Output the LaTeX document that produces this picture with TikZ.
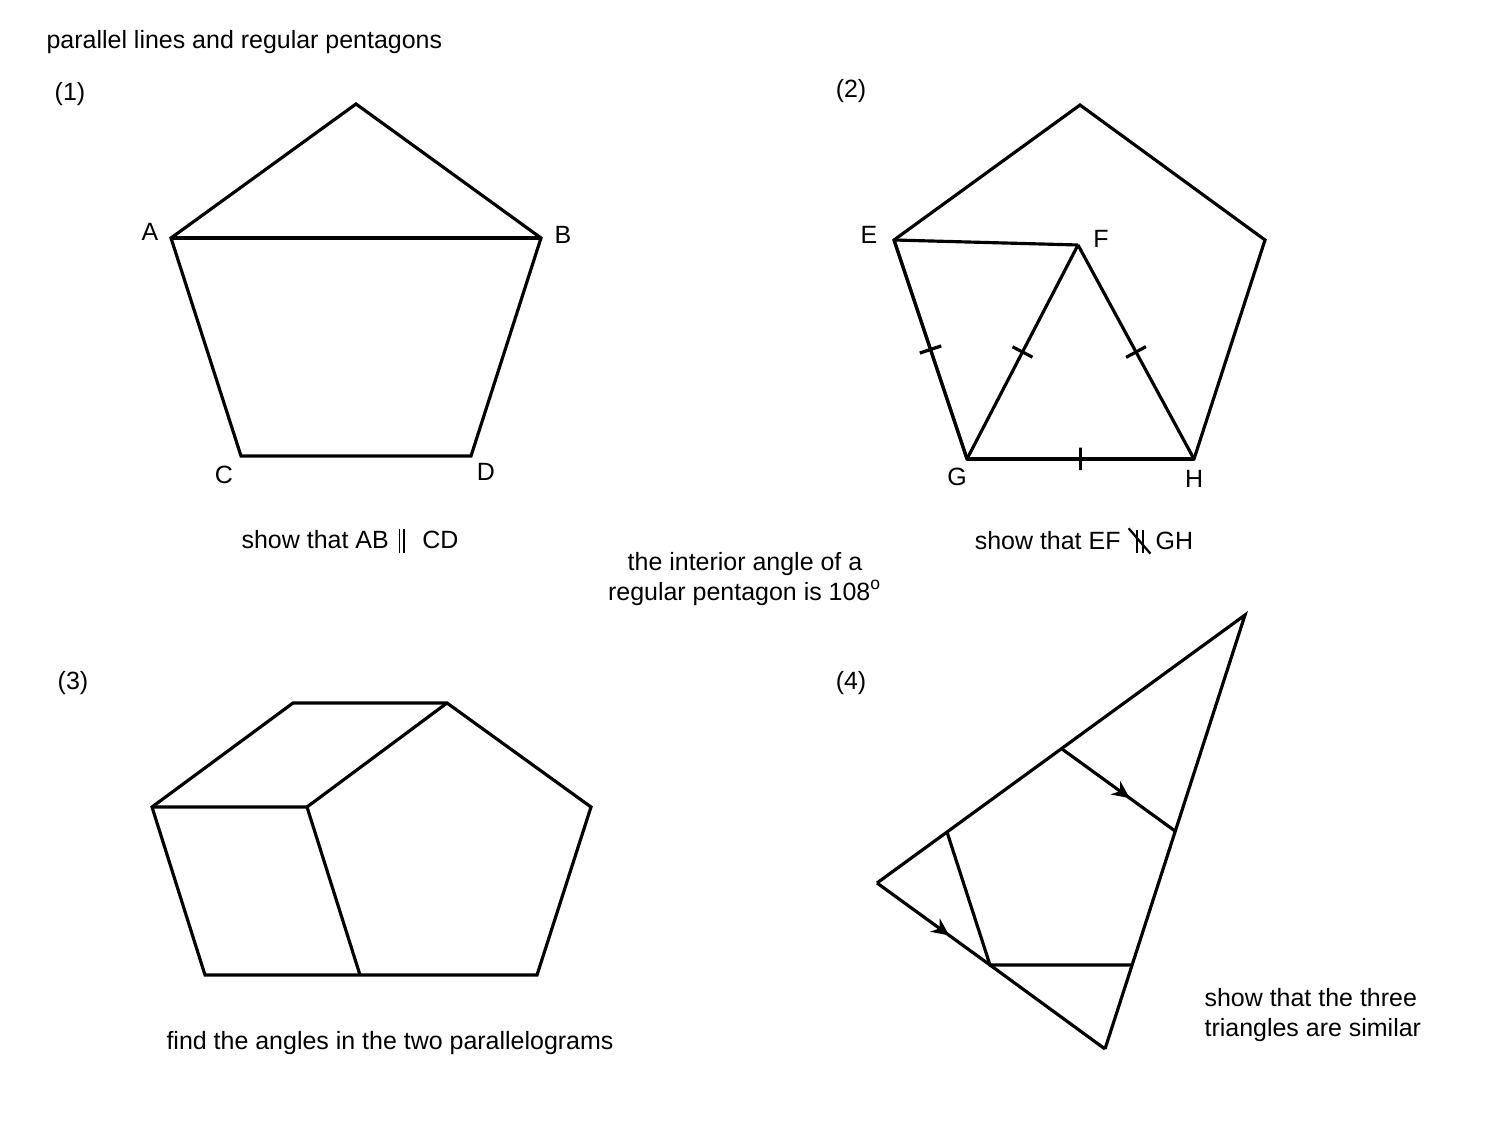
\documentclass[tikz,border=0pt]{standalone}
\usepackage{fontspec}
\setmainfont{Liberation Sans}
\usetikzlibrary{arrows.meta, decorations.markings}

\newcommand{\parbars}{\tikz[x=1pt, y=1pt, baseline=0pt, line width=0.45pt]{\draw (0,-1.3) -- (0,5.3); \draw (1.3,-1.3) -- (1.3,5.3);}}
\newcommand{\nparbars}{\tikz[x=1pt, y=1pt, baseline=0pt, line width=0.5pt]{\draw (0,-1) -- (0,5.5); \draw (1.6,-1) -- (1.6,5.5); \draw[line width=0.65pt] (-2.4,6) -- (3.8,-1.2);}}

\begin{document}
\begin{tikzpicture}[x=0.01cm, y=-0.01cm, line width=0.9pt, line join=miter]

\tikzset{lbl/.style = {font=\fontsize{7.1}{8.3}\selectfont, inner sep=0pt}}
\tikzset{tick/.style = {midway, sloped, draw, shape=rectangle, inner sep=0pt, minimum width=0pt, minimum height=6.4pt, line width=0.9pt}}
\tikzset{arrowmid/.style = {postaction={decorate}, decoration={markings, mark=at position #1 with {\arrow{Stealth[length=5pt, width=4.6pt, inset=1.6pt]}}}}}
\useasboundingbox (0,0) rectangle (1500,1125);

%texts
\node[lbl, anchor=west] (title) at (45,42) {parallel lines and regular pentagons};
\node[lbl] (n1) at (70,94) {(1)};
\node[lbl] (n2) at (851,91) {(2)};
\node[lbl] (n3) at (73,683) {(3)};
\node[lbl] (n4) at (851,683) {(4)};
\node[lbl] (q1) at (350,541) {show that AB\hspace{2.8pt}\parbars\hspace{5pt}CD};
\node[lbl, align=center] (fact) at (745,579) {the interior angle of a\\regular pentagon is 108\textsuperscript{o}};
\node[lbl] (q2) at (1084,541) {show that EF \nparbars\,GH};
\node[lbl] (q3) at (390,1043) {find the angles in the two parallelograms};
\node[lbl, anchor=west, align=left] (q4) at (1203,1015) {show that the three\\triangles are similar};

%pentagon (1)
\coordinate (P1) at (356,104);
\coordinate (A) at (171,238);
\coordinate (B) at (541,238);
\coordinate (C) at (241,456);
\coordinate (D) at (471,456);
\draw (P1) -- (B) -- (D) -- (C) -- (A) -- cycle;
\draw (A) -- (B);
\node[lbl] (la) at (150,232) {A};
\node[lbl] (lb) at (563,235) {B};
\node[lbl] (lc) at (224,475) {C};
\node[lbl] (ld) at (486,472) {D};

%pentagon (2)
\coordinate (P2) at (1080,105);
\coordinate (E) at (894,240);
\coordinate (R2) at (1265,240);
\coordinate (H) at (1194,459);
\coordinate (G) at (967,459);
\coordinate (F) at (1078,245);
\draw (P2) -- (R2) -- (H) -- (G) -- (E) -- cycle;
\draw (E) -- (F);
\draw (G) -- (F) node[tick] {};
\draw (F) -- (H) node[tick] {};
\draw (E) -- (G) node[tick] {};
\draw (G) -- (H) node[tick] {};
\node[lbl] (le) at (869,235) {E};
\node[lbl] (lf) at (1101,239) {F};
\node[lbl] (lg) at (957,477) {G};
\node[lbl] (lh) at (1194,479) {H};

%pentagon (3) with parallelograms
\coordinate (K1) at (447,703);
\coordinate (K2) at (591,807);
\coordinate (K3) at (537,975);
\coordinate (K4) at (360,975);
\coordinate (K5) at (307,807);
\coordinate (M1) at (293,703);
\coordinate (M2) at (152,807);
\coordinate (M3) at (205,975);
\draw (K1) -- (K2) -- (K3) -- (M3) -- (M2) -- (M1) -- cycle;
\draw (M2) -- (K5) -- (K4);
\draw (K5) -- (K1);

%triangle (4)
\coordinate (T1) at (1245,615);
\coordinate (T2) at (877,883);
\coordinate (T3) at (1105,1049);
\coordinate (S1) at (1062,749);
\coordinate (S2) at (947,832);
\coordinate (S3) at (990,965);
\coordinate (S4) at (1131,965);
\coordinate (S5) at (1175,831);
\draw (T3) -- (T1) -- (T2);
\draw[arrowmid=0.64] (T2) -- (S3);
\draw (S3) -- (T3);
\draw[arrowmid=0.6] (S1) -- (S5);
\draw (S2) -- (S3) -- (S4);

\end{tikzpicture}
\end{document}
